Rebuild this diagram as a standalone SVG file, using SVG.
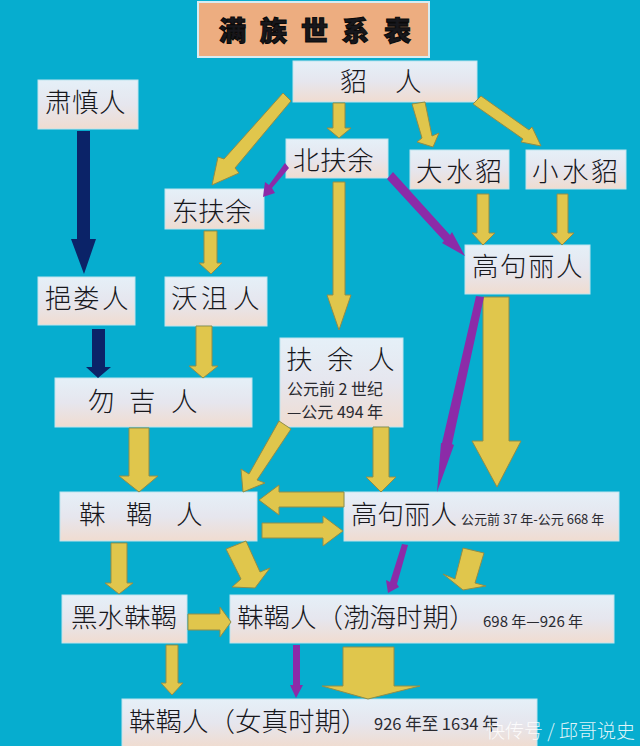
<svg xmlns="http://www.w3.org/2000/svg" width="640" height="746" viewBox="0 0 640 746">
<style>
text{font-family:"Noto Sans CJK SC","Noto Sans",sans-serif;fill:#17171c;white-space:pre;font-weight:300}
.n{fill:url(#g);stroke:#bfe4ee;stroke-width:1}
.t{font-size:26.5px}
.s{font-size:16px;fill:#2a2a30;font-weight:400}
.y{fill:#e0c64c;stroke:#8f8d4a;stroke-width:1;stroke-linejoin:round}
.p{fill:#8c2ba8}
.d{fill:#0b2368}
</style>
<defs>
<linearGradient id="g" x1="0" y1="0" x2="0" y2="1">
<stop offset="0" stop-color="#e5f0f8"/><stop offset=".5" stop-color="#e6e6ee"/><stop offset="1" stop-color="#f0dcd0"/>
</linearGradient>
</defs>
<rect width="640" height="746" fill="#06adcf"/>
<g id="title">
<rect x="198" y="2" width="231" height="55" fill="#edad80" stroke="#d8ecf2" stroke-width="2"/>
<text y="41" font-size="27" style="font-weight:900" fill="#0a0a0a" stroke="#0a0a0a" stroke-width="1.1" x="219 260 301 342 384">满族世系表</text>
</g>
<g id="mo"><rect class="n" x="293" y="61" width="184" height="41"/><text class="t" y="91" x="340 395">貂人</text></g>
<g id="sushen"><rect class="n" x="38" y="80" width="100" height="49"/><text class="t" y="112" x="45 72 99">肃慎人</text></g>
<g id="beifuyu"><rect class="n" x="286" y="139" width="102" height="39"/><text class="t" y="170" x="293 320 347">北扶余</text></g>
<g id="dongfuyu"><rect class="n" x="165" y="189" width="99" height="40"/><text class="t" y="221" x="172 198 225">东扶余</text></g>
<g id="dashuimo"><rect class="n" x="410" y="150" width="99" height="39"/><text class="t" y="181" x="416 446 475">大水貂</text></g>
<g id="xiaoshuimo"><rect class="n" x="526" y="150" width="100" height="39"/><text class="t" y="181" x="532 562 591">小水貂</text></g>
<g id="gaogouli1"><rect class="n" x="465" y="245" width="125" height="49"/><text class="t" y="276" x="472 500 528 556">高句丽人</text></g>
<g id="yilou"><rect class="n" x="38" y="277" width="97" height="48"/><text class="t" y="308" x="45 73 102">挹娄人</text></g>
<g id="woju"><rect class="n" x="165" y="277" width="102" height="49"/><text class="t" y="308" x="171 201 233">沃沮人</text></g>
<g id="fuyuren"><rect class="n" x="280" y="338" width="123" height="89"/><text class="t" y="369" x="286 327 368">扶余人</text><text class="s" y="395" x="287">公元前 2 世纪</text><text class="s" y="418" x="287">—公元 494 年</text></g>
<g id="wuji"><rect class="n" x="55" y="378" width="197" height="49"/><text class="t" y="411" x="88 129 171">勿吉人</text></g>
<g id="mohe"><rect class="n" x="60" y="492" width="197" height="49"/><text class="t" y="524" x="79 126 176">靺鞨人</text></g>
<g id="gaogouli2"><rect class="n" x="344" y="492" width="275" height="49"/><text class="t" y="524" x="351">高句丽人</text><text class="s" style="font-size:13px" y="524" x="461">公元前 37 年-公元 668 年</text></g>
<g id="heishui"><rect class="n" x="62" y="595" width="125" height="48"/><text class="t" y="627" x="71">黑水靺鞨</text></g>
<g id="bohai"><rect class="n" x="230" y="595" width="384" height="48"/><text class="t" y="627" x="237">靺鞨人（渤海时期）</text><text class="s" style="font-size:15px" y="627" x="483">698 年—926 年</text></g>
<g id="nuzhen"><rect class="n" x="122" y="699" width="415" height="48"/><text class="t" y="731" x="129">靺鞨人（女真时期）</text><text class="s" style="font-size:16.5px" y="730" x="374">926 年至 1634 年</text></g>
<g id="connectors">
<polygon class="d" points="77,131 90,131 90,239 96,239 84,274 71,239 77,239"/>
<polygon class="d" points="92,329 105,329 105,367 111,367 98,378 86,367 92,367"/>
<polygon class="y" points="283,93 291,101 235,168 239,173 212,185 218,157 224,159"/>
<polygon class="p" points="285,163 289,168 272,188 275,193 263,197 265,182 269,185"/>
<polygon class="y" points="333,103 345,103 345,128 351,128 339,138 327,128 333,128"/>
<polygon class="y" points="412,104 425,102 432,136 439,133 433,147 417,142 422,138"/>
<polygon class="y" points="481,96 529,130 532,127 541,146 521,142 523,139 473,104"/>
<polygon class="p" points="393,172 450,235 452,232 465,256 442,243 444,241 387,179"/>
<polygon class="y" points="477,194 489,194 489,233 495,233 483,245 472,233 477,233"/>
<polygon class="y" points="557,194 568,194 568,233 574,233 562,245 551,233 557,233"/>
<polygon class="y" points="333,182 345,182 345,295 351,295 339,330 327,295 333,295"/>
<polygon class="y" points="204,231 217,231 217,263 222,263 211,274 199,263 204,263"/>
<polygon class="y" points="196,326 212,326 212,366 218,366 203,378 189,366 196,366"/>
<polygon class="y" points="129,428 149,428 149,476 158,476 139,492 119,476 129,476"/>
<polygon class="y" points="279,421 291,429 257,480 265,483 243,492 241,469 249,474"/>
<polygon class="y" points="373,427 389,427 389,477 396,477 381,492 366,477 373,477"/>
<polygon class="y" points="344,492 279,492 279,485 259,500 279,515 279,507 344,507"/>
<polygon class="y" points="262,523 323,523 323,516 343,531 323,546 323,538 262,538"/>
<polygon class="y" points="483,297 509,297 509,441 521,441 497,487 472,441 483,441"/>
<polygon class="p" points="476,296 484,297 452,444 454,445 437,492 441,443 442,443"/>
<polygon class="y" points="111,543 127,543 127,583 133,583 119,594 105,583 111,583"/>
<polygon class="y" points="226,549 246,541 260,572 270,568 255,588 232,587 241,579"/>
<polygon class="y" points="188,614 220,614 220,607 231,622 220,637 220,630 188,630"/>
<polygon class="y" points="166,645 178,645 178,683 183,683 172,695 161,683 166,683"/>
<polygon class="p" points="293,645 300,645 300,685 303,685 296,698 290,685 293,685"/>
<polygon class="p" points="402,544 408,545 397,584 399,587 388,593 386,580 390,582"/>
<polygon class="y" points="463,548 484,553 475,583 486,586 463,590 443,574 455,579"/>
<polygon class="y" points="343,647 394,647 394,686 420,686 368,699 322,686 343,686"/>
</g>
<text y="738" x="486" font-size="19" style="fill:#fff;fill-opacity:.88">快传号 / 邱哥说史</text>
</svg>
